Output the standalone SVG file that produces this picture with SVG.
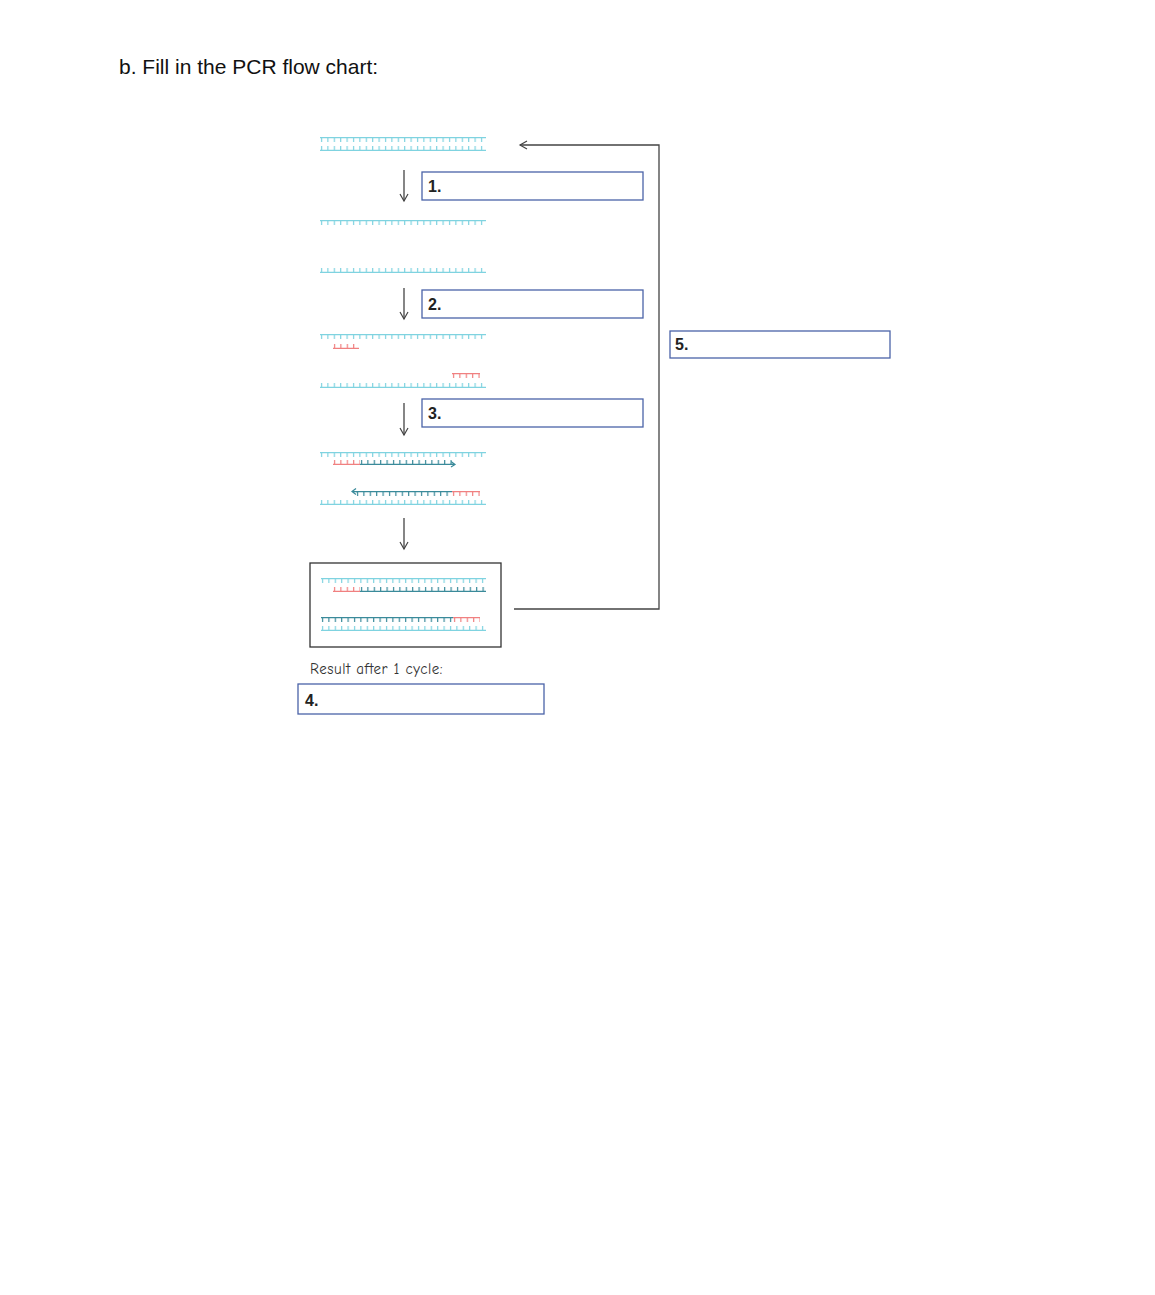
<svg xmlns="http://www.w3.org/2000/svg" width="1155" height="1295" viewBox="0 0 1155 1295">
<style>
.lbl{font-family:"Liberation Sans",Arial,sans-serif;font-size:16px;font-weight:bold;fill:#222}
.box{fill:#fff;stroke:#4a63a8;stroke-width:1.3}
.arr{fill:none;stroke:#444;stroke-width:1.3}
</style>
<defs>
<pattern id="dc" patternUnits="userSpaceOnUse" width="6.4" height="6"><path d="M0 0.6H6.4M1.5 0V5" stroke="#7fd3e0" stroke-width="1.2"/></pattern>
<pattern id="uc" patternUnits="userSpaceOnUse" width="6.4" height="6"><path d="M0 5.4H6.4M1.5 6V1" stroke="#7fd3e0" stroke-width="1.2"/></pattern>
<pattern id="dr" patternUnits="userSpaceOnUse" width="6.4" height="6"><path d="M0 0.6H6.4M1.5 0V5" stroke="#f08080" stroke-width="1.2"/></pattern>
<pattern id="ur" patternUnits="userSpaceOnUse" width="6.4" height="6"><path d="M0 5.4H6.4M1.5 6V1" stroke="#f08080" stroke-width="1.2"/></pattern>
<pattern id="dt" patternUnits="userSpaceOnUse" width="6.4" height="6"><path d="M0 0.6H6.4M1.5 0V5" stroke="#3a8a9a" stroke-width="1.2"/></pattern>
<pattern id="ut" patternUnits="userSpaceOnUse" width="6.4" height="6"><path d="M0 5.4H6.4M1.5 6V1" stroke="#3a8a9a" stroke-width="1.2"/></pattern>
<marker id="ah" markerWidth="10" markerHeight="10" refX="8" refY="5" orient="auto" markerUnits="userSpaceOnUse"><path d="M1 1L8 5L1 9" fill="none" stroke="#444" stroke-width="1.2"/></marker>
</defs>
<rect width="1155" height="1295" fill="#fff"/>
<text x="119" y="74" font-family="Liberation Sans,Arial,sans-serif" font-size="21" fill="#111">b. Fill in the PCR flow chart:</text>

<g id="dna">
<g transform="translate(320,137)"><rect width="166" height="6" fill="url(#dc)"/></g>
<g transform="translate(320,145)"><rect width="166" height="6" fill="url(#uc)"/></g>
<g transform="translate(320,220)"><rect width="166" height="6" fill="url(#dc)"/></g>
<g transform="translate(320,267)"><rect width="166" height="6" fill="url(#uc)"/></g>
<g transform="translate(320,334)"><rect width="166" height="6" fill="url(#dc)"/></g>
<g transform="translate(333,343)"><rect width="26" height="6" fill="url(#ur)"/></g>
<g transform="translate(320,382)"><rect width="166" height="6" fill="url(#uc)"/></g>
<g transform="translate(452,373)"><rect width="28" height="6" fill="url(#dr)"/></g>
<g transform="translate(320,452)"><rect width="166" height="6" fill="url(#dc)"/></g>
<g transform="translate(333,459)"><rect width="27" height="6" fill="url(#ur)"/></g>
<g transform="translate(360,459)"><rect width="92" height="6" fill="url(#ut)"/></g>
<path d="M450 464.4H455M451 461.5L455 464.4L451 467" fill="none" stroke="#3a8a9a" stroke-width="1.2"/>
<g transform="translate(320,499)"><rect width="166" height="6" fill="url(#uc)"/></g>
<g transform="translate(356,491)"><rect width="96" height="6" fill="url(#dt)"/></g>
<g transform="translate(452,491)"><rect width="28" height="6" fill="url(#dr)"/></g>
<path d="M352 491.6H358M356 488.5L352 491.6L356 494.5" fill="none" stroke="#3a8a9a" stroke-width="1.2"/>
</g>

<g id="result">
<rect x="310" y="563" width="191" height="84" fill="#fff" stroke="#333" stroke-width="1.3"/>
<g transform="translate(321,578)"><rect width="165" height="6" fill="url(#dc)"/></g>
<g transform="translate(333,586)"><rect width="27" height="6" fill="url(#ur)"/></g>
<g transform="translate(360,586)"><rect width="126" height="6" fill="url(#ut)"/></g>
<g transform="translate(321,617)"><rect width="132" height="6" fill="url(#dt)"/></g>
<g transform="translate(453,617)"><rect width="27" height="6" fill="url(#dr)"/></g>
<g transform="translate(321,625)"><rect width="165" height="6" fill="url(#uc)"/></g>
<text x="310" y="674" font-family="'Comic Neue','DejaVu Sans',sans-serif" font-size="15" fill="#333" letter-spacing="0.5">Result after 1 cycle:</text>
</g>

<g id="connectors">
<path class="arr" d="M404 170V201" marker-end="url(#ah)"/>
<path class="arr" d="M404 288V319" marker-end="url(#ah)"/>
<path class="arr" d="M404 403V435" marker-end="url(#ah)"/>
<path class="arr" d="M404 518V549" marker-end="url(#ah)"/>
<path class="arr" d="M514 609H659V145H520" marker-end="url(#ah)"/>
</g>

<g id="b1"><rect class="box" x="422" y="172" width="221" height="28"/><text class="lbl" x="428" y="192">1.</text></g>
<g id="b2"><rect class="box" x="422" y="290" width="221" height="28"/><text class="lbl" x="428" y="310">2.</text></g>
<g id="b3"><rect class="box" x="422" y="399" width="221" height="28"/><text class="lbl" x="428" y="419">3.</text></g>
<g id="b5"><rect class="box" x="670" y="331" width="220" height="27"/><text class="lbl" x="675" y="350">5.</text></g>
<g id="b4"><rect class="box" x="298" y="684" width="246" height="30"/><text class="lbl" x="305" y="706">4.</text></g>
</svg>
